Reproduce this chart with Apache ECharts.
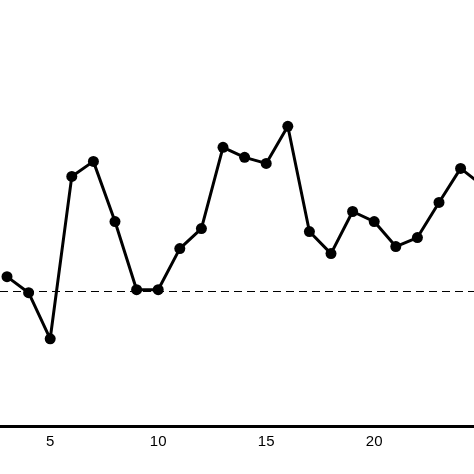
<!DOCTYPE html>
<html>
<head>
<meta charset="utf-8">
<script src="https://cdn.jsdelivr.net/npm/echarts@6/dist/echarts.min.js"></script>
<style>html,body{margin:0;padding:0;background:#fff}#main{width:474px;height:474px}</style>
</head>
<body>
<div id="main"></div>
<script>
// 数据
var xs = [3,4,5,6,7,8,9,10,11,12,13,14,15,16,17,18,19,20,21,22,23,24,25];
var ys = [14.9,13.3,8.7,24.9,26.4,20.4,13.6,13.6,17.7,19.7,27.8,26.8,26.2,29.9,19.4,17.2,21.4,20.4,17.9,18.8,22.3,25.7,24.0];
var refLevel = 13.4;
var xTicks = [5,10,15,20];

var pts = [];
for (var i = 0; i < xs.length; i++) pts.push([xs[i], ys[i]]);

var myChart = echarts.init(document.getElementById('main'));
var option = {
	animation: false,
	grid: {left: 0, right: 0, top: 0, bottom: 48},
	xAxis: {
		type: 'value',
		min: 2.676, max: 24.62,
		splitLine: {show: false},
		axisTick: {show: false},
		axisLine: {lineStyle: {color: '#000', width: 3}},
		axisLabel: {customValues: xTicks, color: '#000', fontSize: 15, fontFamily: 'Liberation Sans', margin: 8}
	},
	yAxis: {
		type: 'value', min: 0, max: 42.5,
		show: false
	},
	series: [{
		type: 'line',
		data: pts,
		symbol: 'circle',
		symbolSize: 11,
		clip: false,
		lineStyle: {color: '#000', width: 3},
		itemStyle: {color: '#000'},
		markLine: {
			silent: true,
			symbol: 'none',
			label: {show: false},
			lineStyle: {color: '#000', type: [8, 5], width: 1.2},
			data: [{yAxis: refLevel}]
		}
	}]
};
myChart.setOption(option);
</script>
</body>
</html>
